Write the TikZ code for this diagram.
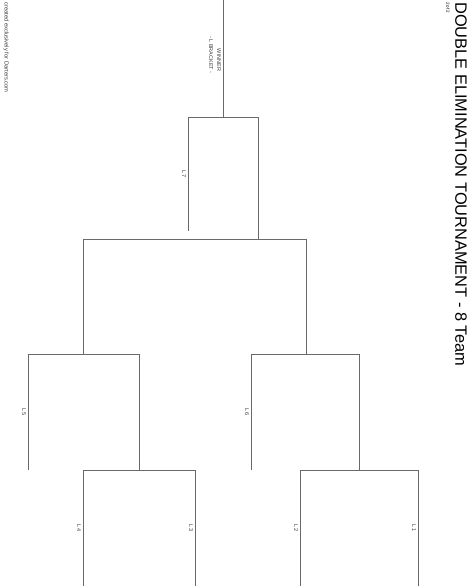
\documentclass[tikz,border=0pt]{standalone}
\usepackage{fontspec}
\setmainfont{Liberation Sans}
\usepackage{tikz}
\definecolor{bracketgray}{RGB}{105,105,105}
\definecolor{labelgray}{RGB}{60,60,60}

\begin{document}
\begin{tikzpicture}[x=1pt,y=-1pt,
   ligne/.style={draw=bracketgray,line width=1pt},
   perdant/.style={rotate=-90,inner sep=0pt,text=labelgray,font=\fontsize{5.5}{6}\selectfont},
   titre/.style={rotate=-90,anchor=west,inner sep=0pt}]

  \useasboundingbox (0,0) rectangle (474,586);

  % titles
  \node[titre,font=\fontsize{16.4}{18}\selectfont] (titre) at (461,2) {DOUBLE ELIMINATION TOURNAMENT - 8 Team};
  \node[titre,font=\fontsize{4.5}{5}\selectfont] (page) at (448,2) {2 of 2};
  \node[titre,text=labelgray,font=\fontsize{5.8}{6}\selectfont] (credit) at (6,2) {created exclusively for Darters.com};

  % junctions of the bracket
  \coordinate (w) at (223,0);
  \coordinate (f) at (223,117);
  \coordinate (f7) at (188,117);
  \coordinate (fr) at (258,117);
  \coordinate (e7) at (188,231);
  \coordinate (frb) at (258,239);
  \coordinate (ul) at (83,239);
  \coordinate (ur) at (306,239);
  \coordinate (ulb) at (83,354);
  \coordinate (urb) at (306,354);
  \coordinate (m5) at (28,354);
  \coordinate (mq) at (139,354);
  \coordinate (e5) at (28,470);
  \coordinate (mqb) at (139,470);
  \coordinate (m6) at (251,354);
  \coordinate (mr) at (359,354);
  \coordinate (e6) at (251,470);
  \coordinate (mrb) at (359,470);
  \coordinate (a4) at (83,470);
  \coordinate (a3) at (195,470);
  \coordinate (e4) at (83,586);
  \coordinate (e3) at (195,586);
  \coordinate (b2) at (300,470);
  \coordinate (b1) at (418,470);
  \coordinate (e2) at (300,586);
  \coordinate (e1) at (418,586);

  \draw[ligne] (w) -- (f);
  \draw[ligne] (e7) -- (f7) -- (fr) -- (frb);
  \draw[ligne] (ulb) -- (ul) -- (ur) -- (urb);
  \draw[ligne] (e5) -- (m5) -- (mq) -- (mqb);
  \draw[ligne] (e6) -- (m6) -- (mr) -- (mrb);
  \draw[ligne] (e4) -- (a4) -- (a3) -- (e3);
  \draw[ligne] (e2) -- (b2) -- (b1) -- (e1);

  % losers
  \foreach \n/\x/\y in {L1/414/528,L2/296/528,L3/191/528,L4/79/528,L5/24/412,L6/247/412,L7/184/174}
    \node[perdant] (\n) at (\x,\y) {\n};

  \node[perdant] (gagnant) at (219,60) {WINNER};
  \node[perdant] (lbracket) at (211,55) {- L BRACKET -};
\end{tikzpicture}
\end{document}
